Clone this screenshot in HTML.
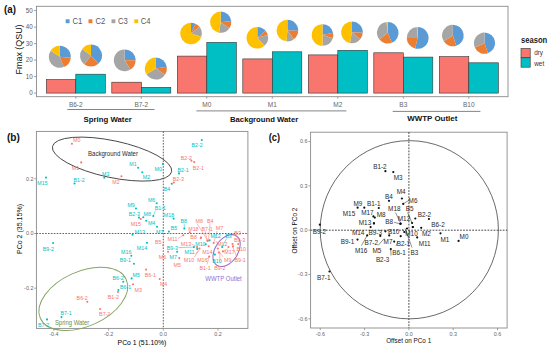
<!DOCTYPE html>
<html><head><meta charset="utf-8"><style>
html,body{margin:0;padding:0;background:#fff;}
svg{display:block;font-family:"Liberation Sans", sans-serif;}
</style></head><body>
<svg width="550" height="351" viewBox="0 0 550 351">
<rect width="550" height="351" fill="#fff"/>
<rect x="36.5" y="6.3" width="471.5" height="90.4" fill="#fff" stroke="#8a8a8a" stroke-width="0.9"/>
<line x1="33.9" y1="93.10" x2="36.5" y2="93.10" stroke="#8a8a8a" stroke-width="0.8"/>
<text transform="translate(32.60,95.44) scale(0.92,1)" font-size="6.8" fill="#5a5a5a" text-anchor="end" font-weight="normal" >0</text>
<line x1="33.9" y1="76.60" x2="36.5" y2="76.60" stroke="#8a8a8a" stroke-width="0.8"/>
<text transform="translate(32.60,78.94) scale(0.92,1)" font-size="6.8" fill="#5a5a5a" text-anchor="end" font-weight="normal" >10</text>
<line x1="33.9" y1="60.10" x2="36.5" y2="60.10" stroke="#8a8a8a" stroke-width="0.8"/>
<text transform="translate(32.60,62.44) scale(0.92,1)" font-size="6.8" fill="#5a5a5a" text-anchor="end" font-weight="normal" >20</text>
<line x1="33.9" y1="43.60" x2="36.5" y2="43.60" stroke="#8a8a8a" stroke-width="0.8"/>
<text transform="translate(32.60,45.94) scale(0.92,1)" font-size="6.8" fill="#5a5a5a" text-anchor="end" font-weight="normal" >30</text>
<line x1="33.9" y1="27.10" x2="36.5" y2="27.10" stroke="#8a8a8a" stroke-width="0.8"/>
<text transform="translate(32.60,29.44) scale(0.92,1)" font-size="6.8" fill="#5a5a5a" text-anchor="end" font-weight="normal" >40</text>
<line x1="33.9" y1="10.60" x2="36.5" y2="10.60" stroke="#8a8a8a" stroke-width="0.8"/>
<text transform="translate(32.60,12.94) scale(0.92,1)" font-size="6.8" fill="#5a5a5a" text-anchor="end" font-weight="normal" >50</text>
<rect x="46.30" y="79.6" width="29.5" height="13.50" fill="#F8766D" stroke="#333" stroke-width="0.6"/>
<rect x="75.80" y="74.2" width="29.5" height="18.90" fill="#00BFC4" stroke="#333" stroke-width="0.6"/>
<line x1="75.80" y1="96.7" x2="75.80" y2="98.7" stroke="#8a8a8a" stroke-width="0.8"/>
<text x="75.80" y="106.94" font-size="6.5" fill="#666" text-anchor="middle" font-weight="normal" >B6-2</text>
<rect x="111.80" y="82.2" width="29.5" height="10.90" fill="#F8766D" stroke="#333" stroke-width="0.6"/>
<rect x="141.30" y="87.3" width="29.5" height="5.80" fill="#00BFC4" stroke="#333" stroke-width="0.6"/>
<line x1="141.30" y1="96.7" x2="141.30" y2="98.7" stroke="#8a8a8a" stroke-width="0.8"/>
<text x="141.30" y="106.94" font-size="6.5" fill="#666" text-anchor="middle" font-weight="normal" >B7-2</text>
<rect x="177.30" y="56.1" width="29.5" height="37.00" fill="#F8766D" stroke="#333" stroke-width="0.6"/>
<rect x="206.80" y="42.4" width="29.5" height="50.70" fill="#00BFC4" stroke="#333" stroke-width="0.6"/>
<line x1="206.80" y1="96.7" x2="206.80" y2="98.7" stroke="#8a8a8a" stroke-width="0.8"/>
<text x="206.80" y="106.94" font-size="6.5" fill="#666" text-anchor="middle" font-weight="normal" >M0</text>
<rect x="242.80" y="58.9" width="29.5" height="34.20" fill="#F8766D" stroke="#333" stroke-width="0.6"/>
<rect x="272.30" y="51.8" width="29.5" height="41.30" fill="#00BFC4" stroke="#333" stroke-width="0.6"/>
<line x1="272.30" y1="96.7" x2="272.30" y2="98.7" stroke="#8a8a8a" stroke-width="0.8"/>
<text x="272.30" y="106.94" font-size="6.5" fill="#666" text-anchor="middle" font-weight="normal" >M1</text>
<rect x="308.30" y="54.9" width="29.5" height="38.20" fill="#F8766D" stroke="#333" stroke-width="0.6"/>
<rect x="337.80" y="50.3" width="29.5" height="42.80" fill="#00BFC4" stroke="#333" stroke-width="0.6"/>
<line x1="337.80" y1="96.7" x2="337.80" y2="98.7" stroke="#8a8a8a" stroke-width="0.8"/>
<text x="337.80" y="106.94" font-size="6.5" fill="#666" text-anchor="middle" font-weight="normal" >M2</text>
<rect x="373.80" y="52.8" width="29.5" height="40.30" fill="#F8766D" stroke="#333" stroke-width="0.6"/>
<rect x="403.30" y="57.1" width="29.5" height="36.00" fill="#00BFC4" stroke="#333" stroke-width="0.6"/>
<line x1="403.30" y1="96.7" x2="403.30" y2="98.7" stroke="#8a8a8a" stroke-width="0.8"/>
<text x="403.30" y="106.94" font-size="6.5" fill="#666" text-anchor="middle" font-weight="normal" >B3</text>
<rect x="439.30" y="56.6" width="29.5" height="36.50" fill="#F8766D" stroke="#333" stroke-width="0.6"/>
<rect x="468.80" y="62.8" width="29.5" height="30.30" fill="#00BFC4" stroke="#333" stroke-width="0.6"/>
<line x1="468.80" y1="96.7" x2="468.80" y2="98.7" stroke="#8a8a8a" stroke-width="0.8"/>
<text x="468.80" y="106.94" font-size="6.5" fill="#666" text-anchor="middle" font-weight="normal" >B10</text>
<path d="M59.80,56.80 L59.80,45.80 A11,11 0 0 1 70.76,57.76 Z" fill="#5B9BD5"/>
<path d="M59.80,56.80 L70.76,57.76 A11,11 0 0 1 63.74,67.07 Z" fill="#ED7D31"/>
<path d="M59.80,56.80 L63.74,67.07 A11,11 0 0 1 50.68,50.65 Z" fill="#A5A5A5"/>
<path d="M59.80,56.80 L50.68,50.65 A11,11 0 0 1 59.80,45.80 Z" fill="#FFC000"/>
<path d="M91.00,55.50 L91.00,44.50 A11,11 0 0 1 98.36,63.67 Z" fill="#5B9BD5"/>
<path d="M91.00,55.50 L98.36,63.67 A11,11 0 0 1 84.23,64.17 Z" fill="#ED7D31"/>
<path d="M91.00,55.50 L84.23,64.17 A11,11 0 0 1 82.22,48.88 Z" fill="#A5A5A5"/>
<path d="M91.00,55.50 L82.22,48.88 A11,11 0 0 1 91.00,44.50 Z" fill="#FFC000"/>
<path d="M124.70,60.30 L124.70,49.40 A10.9,10.9 0 0 1 135.60,60.30 Z" fill="#5B9BD5"/>
<path d="M124.70,60.30 L135.60,60.30 A10.9,10.9 0 0 1 130.48,69.54 Z" fill="#ED7D31"/>
<path d="M124.70,60.30 L130.48,69.54 A10.9,10.9 0 1 1 124.70,49.40 Z" fill="#A5A5A5"/>
<path d="M155.90,68.60 L155.90,57.60 A11,11 0 0 1 166.75,66.78 Z" fill="#5B9BD5"/>
<path d="M155.90,68.60 L166.75,66.78 A11,11 0 0 1 165.02,74.75 Z" fill="#ED7D31"/>
<path d="M155.90,68.60 L165.02,74.75 A11,11 0 0 1 146.47,74.27 Z" fill="#A5A5A5"/>
<path d="M155.90,68.60 L146.47,74.27 A11,11 0 0 1 155.90,57.60 Z" fill="#FFC000"/>
<path d="M191.00,33.50 L191.00,22.70 A10.8,10.8 0 0 1 195.39,23.63 Z" fill="#5B9BD5"/>
<path d="M191.00,33.50 L195.39,23.63 A10.8,10.8 0 0 1 199.51,26.85 Z" fill="#ED7D31"/>
<path d="M191.00,33.50 L199.51,26.85 A10.8,10.8 0 0 1 201.33,36.66 Z" fill="#A5A5A5"/>
<path d="M191.00,33.50 L201.33,36.66 A10.8,10.8 0 1 1 191.00,22.70 Z" fill="#FFC000"/>
<path d="M220.70,22.20 L220.70,11.60 A10.6,10.6 0 0 1 231.22,20.91 Z" fill="#5B9BD5"/>
<path d="M220.70,22.20 L231.22,20.91 A10.6,10.6 0 0 1 229.38,28.28 Z" fill="#ED7D31"/>
<path d="M220.70,22.20 L229.38,28.28 A10.6,10.6 0 0 1 219.04,32.67 Z" fill="#A5A5A5"/>
<path d="M220.70,22.20 L219.04,32.67 A10.6,10.6 0 0 1 220.70,11.60 Z" fill="#FFC000"/>
<path d="M257.30,37.80 L257.30,27.00 A10.8,10.8 0 0 1 265.57,30.86 Z" fill="#5B9BD5"/>
<path d="M257.30,37.80 L265.57,30.86 A10.8,10.8 0 0 1 267.73,35.00 Z" fill="#ED7D31"/>
<path d="M257.30,37.80 L267.73,35.00 A10.8,10.8 0 0 1 264.53,45.83 Z" fill="#A5A5A5"/>
<path d="M257.30,37.80 L264.53,45.83 A10.8,10.8 0 1 1 257.30,27.00 Z" fill="#FFC000"/>
<path d="M287.40,30.60 L287.40,19.80 A10.8,10.8 0 0 1 298.20,30.79 Z" fill="#5B9BD5"/>
<path d="M287.40,30.60 L298.20,30.79 A10.8,10.8 0 0 1 293.90,39.23 Z" fill="#ED7D31"/>
<path d="M287.40,30.60 L293.90,39.23 A10.8,10.8 0 0 1 286.46,41.36 Z" fill="#A5A5A5"/>
<path d="M287.40,30.60 L286.46,41.36 A10.8,10.8 0 0 1 287.40,19.80 Z" fill="#FFC000"/>
<path d="M322.50,35.00 L322.50,24.20 A10.8,10.8 0 0 1 333.06,32.75 Z" fill="#5B9BD5"/>
<path d="M322.50,35.00 L333.06,32.75 A10.8,10.8 0 0 1 332.77,38.34 Z" fill="#ED7D31"/>
<path d="M322.50,35.00 L332.77,38.34 A10.8,10.8 0 0 1 322.50,45.80 Z" fill="#A5A5A5"/>
<path d="M322.50,35.00 L322.50,45.80 A10.8,10.8 0 0 1 322.50,24.20 Z" fill="#FFC000"/>
<path d="M351.90,32.30 L351.90,21.45 A10.85,10.85 0 0 1 362.74,32.87 Z" fill="#5B9BD5"/>
<path d="M351.90,32.30 L362.74,32.87 A10.85,10.85 0 0 1 360.21,39.27 Z" fill="#ED7D31"/>
<path d="M351.90,32.30 L360.21,39.27 A10.85,10.85 0 0 1 350.02,42.99 Z" fill="#A5A5A5"/>
<path d="M351.90,32.30 L350.02,42.99 A10.85,10.85 0 0 1 351.90,21.45 Z" fill="#FFC000"/>
<path d="M387.80,32.80 L387.80,22.00 A10.8,10.8 0 0 1 391.85,42.81 Z" fill="#5B9BD5"/>
<path d="M387.80,32.80 L391.85,42.81 A10.8,10.8 0 0 1 379.41,39.60 Z" fill="#ED7D31"/>
<path d="M387.80,32.80 L379.41,39.60 A10.8,10.8 0 0 1 386.48,22.08 Z" fill="#A5A5A5"/>
<path d="M387.80,32.80 L386.48,22.08 A10.8,10.8 0 0 1 387.80,22.00 Z" fill="#FFC000"/>
<path d="M417.70,37.90 L417.70,27.00 A10.9,10.9 0 1 1 415.06,48.48 Z" fill="#5B9BD5"/>
<path d="M417.70,37.90 L415.06,48.48 A10.9,10.9 0 0 1 406.80,37.90 Z" fill="#ED7D31"/>
<path d="M417.70,37.90 L406.80,37.90 A10.9,10.9 0 0 1 416.75,27.04 Z" fill="#A5A5A5"/>
<path d="M417.70,37.90 L416.75,27.04 A10.9,10.9 0 0 1 417.70,27.00 Z" fill="#FFC000"/>
<path d="M452.90,35.50 L452.90,24.70 A10.8,10.8 0 0 1 456.24,45.77 Z" fill="#5B9BD5"/>
<path d="M452.90,35.50 L456.24,45.77 A10.8,10.8 0 0 1 443.74,41.22 Z" fill="#ED7D31"/>
<path d="M452.90,35.50 L443.74,41.22 A10.8,10.8 0 0 1 452.90,24.70 Z" fill="#A5A5A5"/>
<path d="M484.50,43.20 L484.50,32.60 A10.6,10.6 0 0 1 487.95,53.22 Z" fill="#5B9BD5"/>
<path d="M484.50,43.20 L487.95,53.22 A10.6,10.6 0 0 1 474.82,47.51 Z" fill="#ED7D31"/>
<path d="M484.50,43.20 L474.82,47.51 A10.6,10.6 0 0 1 484.50,32.60 Z" fill="#A5A5A5"/>
<rect x="65.7" y="19.3" width="3.9" height="3.9" fill="#5B9BD5"/>
<text x="72.40" y="24.29" font-size="8.4" fill="#595959" text-anchor="start" font-weight="normal" textLength="9.8" lengthAdjust="spacingAndGlyphs">C1</text>
<rect x="88.5" y="19.3" width="3.9" height="3.9" fill="#ED7D31"/>
<text x="95.40" y="24.29" font-size="8.4" fill="#595959" text-anchor="start" font-weight="normal" textLength="9.8" lengthAdjust="spacingAndGlyphs">C2</text>
<rect x="111.5" y="19.3" width="3.9" height="3.9" fill="#A5A5A5"/>
<text x="117.90" y="24.29" font-size="8.4" fill="#595959" text-anchor="start" font-weight="normal" textLength="9.8" lengthAdjust="spacingAndGlyphs">C3</text>
<rect x="134.3" y="19.3" width="3.9" height="3.9" fill="#FFC000"/>
<text x="140.80" y="24.29" font-size="8.4" fill="#595959" text-anchor="start" font-weight="normal" textLength="9.8" lengthAdjust="spacingAndGlyphs">C4</text>
<text x="0" y="0" font-size="8.4" fill="#111" text-anchor="middle" transform="translate(21.9,49.4) rotate(-90)" textLength="50" lengthAdjust="spacingAndGlyphs">Fmax (QSU)</text>
<text x="4.00" y="12.90" font-size="10" fill="#111" text-anchor="start" font-weight="bold" textLength="11.9" lengthAdjust="spacingAndGlyphs">(a)</text>
<line x1="67.3" y1="109.5" x2="154.5" y2="109.5" stroke="#777" stroke-width="0.9"/>
<line x1="196.4" y1="110.9" x2="346.4" y2="110.9" stroke="#777" stroke-width="0.9"/>
<line x1="392.7" y1="111.4" x2="480.4" y2="111.4" stroke="#777" stroke-width="0.9"/>
<text x="83.60" y="121.60" font-size="7.6" fill="#111" text-anchor="start" font-weight="bold" textLength="48.2" lengthAdjust="spacingAndGlyphs">Spring Water</text>
<text x="230.00" y="121.70" font-size="7.6" fill="#111" text-anchor="start" font-weight="bold" textLength="68.2" lengthAdjust="spacingAndGlyphs">Background Water</text>
<text x="407.30" y="121.40" font-size="7.6" fill="#111" text-anchor="start" font-weight="bold" textLength="50" lengthAdjust="spacingAndGlyphs">WWTP Outlet</text>
<text x="521.00" y="43.40" font-size="8.6" fill="#222" text-anchor="start" font-weight="bold" textLength="26.2" lengthAdjust="spacingAndGlyphs">season</text>
<rect x="521" y="48.4" width="9.2" height="9.4" fill="#F8766D" stroke="#333" stroke-width="0.6"/>
<rect x="521" y="57.8" width="9.2" height="9.4" fill="#00BFC4" stroke="#333" stroke-width="0.6"/>
<text x="534.20" y="55.30" font-size="7" fill="#333" text-anchor="start" font-weight="normal" textLength="8.8" lengthAdjust="spacingAndGlyphs">dry</text>
<text x="534.20" y="65.80" font-size="7" fill="#333" text-anchor="start" font-weight="normal" textLength="10" lengthAdjust="spacingAndGlyphs">wet</text>
<rect x="36.4" y="131.4" width="211.5" height="196.99999999999997" fill="#fff" stroke="#8a8a8a" stroke-width="0.9"/>
<line x1="36.4" y1="233.5" x2="247.9" y2="233.5" stroke="#444" stroke-width="0.85" stroke-dasharray="1.6,1.3"/>
<line x1="163.3" y1="131.4" x2="163.3" y2="328.4" stroke="#444" stroke-width="0.85" stroke-dasharray="1.6,1.3"/>
<line x1="34.199999999999996" y1="178.80" x2="36.4" y2="178.80" stroke="#8a8a8a" stroke-width="0.8"/>
<text x="33.40" y="180.66" font-size="5.4" fill="#666" text-anchor="end" font-weight="normal" >0.2</text>
<line x1="34.199999999999996" y1="233.50" x2="36.4" y2="233.50" stroke="#8a8a8a" stroke-width="0.8"/>
<text x="33.40" y="235.36" font-size="5.4" fill="#666" text-anchor="end" font-weight="normal" >0.0</text>
<line x1="34.199999999999996" y1="288.20" x2="36.4" y2="288.20" stroke="#8a8a8a" stroke-width="0.8"/>
<text x="33.40" y="290.06" font-size="5.4" fill="#666" text-anchor="end" font-weight="normal" >-0.2</text>
<line x1="53.90" y1="328.4" x2="53.90" y2="330.59999999999997" stroke="#8a8a8a" stroke-width="0.8"/>
<text x="53.90" y="336.46" font-size="5.4" fill="#666" text-anchor="middle" font-weight="normal" >-0.4</text>
<line x1="108.60" y1="328.4" x2="108.60" y2="330.59999999999997" stroke="#8a8a8a" stroke-width="0.8"/>
<text x="108.60" y="336.46" font-size="5.4" fill="#666" text-anchor="middle" font-weight="normal" >-0.2</text>
<line x1="163.30" y1="328.4" x2="163.30" y2="330.59999999999997" stroke="#8a8a8a" stroke-width="0.8"/>
<text x="163.30" y="336.46" font-size="5.4" fill="#666" text-anchor="middle" font-weight="normal" >0.0</text>
<line x1="218.00" y1="328.4" x2="218.00" y2="330.59999999999997" stroke="#8a8a8a" stroke-width="0.8"/>
<text x="218.00" y="336.46" font-size="5.4" fill="#666" text-anchor="middle" font-weight="normal" >0.2</text>
<text x="142.00" y="345.00" font-size="7.2" fill="#000" text-anchor="middle" font-weight="normal" textLength="48.8" lengthAdjust="spacingAndGlyphs">PCo 1 (51.10%)</text>
<text x="0" y="0" font-size="6.9" fill="#111" text-anchor="middle" transform="translate(22.2,229.0) rotate(-90)" textLength="50" lengthAdjust="spacingAndGlyphs">PCo 2 (35.15%)</text>
<text x="6.90" y="141.40" font-size="10.2" fill="#111" text-anchor="start" font-weight="bold" textLength="12.9" lengthAdjust="spacingAndGlyphs">(b)</text>
<ellipse cx="112.05" cy="159.1" rx="60.9" ry="18.4" transform="rotate(12.0 112.05 159.1)" fill="none" stroke="#444" stroke-width="0.9"/>
<ellipse cx="83.3" cy="298.9" rx="47.1" ry="27.4" transform="rotate(-24.2 83.3 298.9)" fill="none" stroke="#86A466" stroke-width="0.95"/>
<ellipse cx="226.6" cy="250.6" rx="17.6" ry="11.4" transform="rotate(-56 226.6 250.6)" fill="none" stroke="#9575D5" stroke-width="1.05"/>
<text x="113.00" y="155.87" font-size="6.6" fill="#2a2a2a" text-anchor="middle" font-weight="normal" textLength="50" lengthAdjust="spacingAndGlyphs">Background Water</text>
<text x="72.10" y="324.67" font-size="6.6" fill="#6E8E4E" text-anchor="middle" font-weight="normal" textLength="34.4" lengthAdjust="spacingAndGlyphs">Spring Water</text>
<text x="223.50" y="280.77" font-size="6.6" fill="#8E6FD0" text-anchor="middle" font-weight="normal" textLength="36.4" lengthAdjust="spacingAndGlyphs">WWTP Outlet</text>
<line x1="155.4" y1="210.6" x2="153.3" y2="216" stroke="#00BFC4" stroke-width="0.5"/>
<line x1="184.2" y1="223.6" x2="184.3" y2="228.5" stroke="#00BFC4" stroke-width="0.5"/>
<line x1="178.5" y1="247.6" x2="193.9" y2="247.1" stroke="#00BFC4" stroke-width="0.5"/>
<line x1="226.5" y1="238.5" x2="222.2" y2="247" stroke="#00BFC4" stroke-width="0.5"/>
<line x1="197" y1="223.5" x2="207.8" y2="240.8" stroke="#F8766D" stroke-width="0.5"/>
<line x1="210" y1="223.5" x2="208.5" y2="240" stroke="#F8766D" stroke-width="0.5"/>
<line x1="205" y1="231" x2="207.4" y2="240.8" stroke="#F8766D" stroke-width="0.5"/>
<line x1="217" y1="231" x2="213.7" y2="243" stroke="#F8766D" stroke-width="0.5"/>
<line x1="177.8" y1="238.6" x2="183.3" y2="235.3" stroke="#F8766D" stroke-width="0.5"/>
<line x1="191.5" y1="244" x2="195.5" y2="246" stroke="#F8766D" stroke-width="0.5"/>
<line x1="194.4" y1="257" x2="199.5" y2="249.5" stroke="#F8766D" stroke-width="0.5"/>
<line x1="206.7" y1="259.3" x2="209.4" y2="256.6" stroke="#F8766D" stroke-width="0.5"/>
<line x1="195.5" y1="254.4" x2="197.9" y2="250.6" stroke="#F8766D" stroke-width="0.5"/>
<line x1="223.2" y1="256.9" x2="218.3" y2="250.6" stroke="#F8766D" stroke-width="0.5"/>
<line x1="219.8" y1="253" x2="219.8" y2="262.5" stroke="#F8766D" stroke-width="0.5"/>
<line x1="236.5" y1="256.5" x2="232.8" y2="246.8" stroke="#F8766D" stroke-width="0.5"/>
<line x1="215.9" y1="240.9" x2="218.3" y2="244.7" stroke="#F8766D" stroke-width="0.5"/>
<line x1="227.5" y1="249" x2="222.9" y2="251.4" stroke="#F8766D" stroke-width="0.5"/>
<line x1="207" y1="264.5" x2="209.2" y2="257" stroke="#F8766D" stroke-width="0.5"/>
<circle cx="71.9" cy="143.8" r="1.05" fill="#F8766D"/>
<circle cx="81.2" cy="162.4" r="1.05" fill="#F8766D"/>
<circle cx="121.4" cy="176.2" r="1.05" fill="#F8766D"/>
<circle cx="191.4" cy="160.7" r="1.05" fill="#F8766D"/>
<circle cx="194.2" cy="162.1" r="1.05" fill="#F8766D"/>
<circle cx="173.8" cy="182.5" r="1.05" fill="#F8766D"/>
<circle cx="140.8" cy="219" r="1.05" fill="#F8766D"/>
<circle cx="189.8" cy="232.2" r="1.05" fill="#F8766D"/>
<circle cx="207.8" cy="240.8" r="1.05" fill="#F8766D"/>
<circle cx="183.3" cy="235.3" r="1.05" fill="#F8766D"/>
<circle cx="200.8" cy="237.9" r="1.05" fill="#F8766D"/>
<circle cx="197" cy="247" r="1.05" fill="#F8766D"/>
<circle cx="163.2" cy="245.3" r="1.05" fill="#F8766D"/>
<circle cx="168.1" cy="251.8" r="1.05" fill="#F8766D"/>
<circle cx="179.3" cy="258.1" r="1.05" fill="#F8766D"/>
<circle cx="199.5" cy="248.5" r="1.05" fill="#F8766D"/>
<circle cx="208.7" cy="246.3" r="1.05" fill="#F8766D"/>
<circle cx="209.2" cy="256.5" r="1.05" fill="#F8766D"/>
<circle cx="87.3" cy="301.7" r="1.05" fill="#F8766D"/>
<circle cx="118" cy="292" r="1.05" fill="#F8766D"/>
<circle cx="100.1" cy="309" r="1.05" fill="#F8766D"/>
<circle cx="146.1" cy="269.6" r="1.05" fill="#F8766D"/>
<circle cx="159.7" cy="279" r="1.05" fill="#F8766D"/>
<circle cx="133" cy="284.2" r="1.05" fill="#F8766D"/>
<circle cx="207.4" cy="240.8" r="1.05" fill="#F8766D"/>
<circle cx="213.7" cy="243" r="1.05" fill="#F8766D"/>
<circle cx="232.5" cy="244" r="1.05" fill="#F8766D"/>
<circle cx="238.2" cy="244" r="1.05" fill="#F8766D"/>
<circle cx="228.5" cy="247" r="1.05" fill="#F8766D"/>
<circle cx="233" cy="246.4" r="1.05" fill="#F8766D"/>
<circle cx="217.8" cy="248.5" r="1.05" fill="#F8766D"/>
<circle cx="218.9" cy="252.5" r="1.05" fill="#F8766D"/>
<circle cx="222.9" cy="251.4" r="1.05" fill="#F8766D"/>
<circle cx="201" cy="237.6" r="1.05" fill="#F8766D"/>
<circle cx="201.8" cy="140" r="1.05" fill="#00BFC4"/>
<circle cx="46" cy="177.6" r="1.05" fill="#00BFC4"/>
<circle cx="74.5" cy="183.5" r="1.05" fill="#00BFC4"/>
<circle cx="104.3" cy="177.8" r="1.05" fill="#00BFC4"/>
<circle cx="138.1" cy="167.8" r="1.05" fill="#00BFC4"/>
<circle cx="142.3" cy="172.3" r="1.05" fill="#00BFC4"/>
<circle cx="163" cy="163.9" r="1.05" fill="#00BFC4"/>
<circle cx="179" cy="173.4" r="1.05" fill="#00BFC4"/>
<circle cx="171.8" cy="183.8" r="1.05" fill="#00BFC4"/>
<circle cx="156.7" cy="203.2" r="1.05" fill="#00BFC4"/>
<circle cx="136" cy="208.5" r="1.05" fill="#00BFC4"/>
<circle cx="139" cy="217.6" r="1.05" fill="#00BFC4"/>
<circle cx="143.3" cy="217.3" r="1.05" fill="#00BFC4"/>
<circle cx="146.2" cy="220.8" r="1.05" fill="#00BFC4"/>
<circle cx="153.3" cy="216" r="1.05" fill="#00BFC4"/>
<circle cx="173.6" cy="218.6" r="1.05" fill="#00BFC4"/>
<circle cx="132.5" cy="234.7" r="1.05" fill="#00BFC4"/>
<circle cx="157" cy="226.7" r="1.05" fill="#00BFC4"/>
<circle cx="184.3" cy="228.5" r="1.05" fill="#00BFC4"/>
<circle cx="168.9" cy="231.6" r="1.05" fill="#00BFC4"/>
<circle cx="147" cy="242.8" r="1.05" fill="#00BFC4"/>
<circle cx="131.3" cy="255.7" r="1.05" fill="#00BFC4"/>
<circle cx="133.9" cy="263.8" r="1.05" fill="#00BFC4"/>
<circle cx="53.1" cy="243" r="1.05" fill="#00BFC4"/>
<circle cx="131.6" cy="278.4" r="1.05" fill="#00BFC4"/>
<circle cx="123.3" cy="281.7" r="1.05" fill="#00BFC4"/>
<circle cx="118.4" cy="290" r="1.05" fill="#00BFC4"/>
<circle cx="61.5" cy="317.1" r="1.05" fill="#00BFC4"/>
<circle cx="47" cy="319.4" r="1.05" fill="#00BFC4"/>
<circle cx="193.9" cy="247.1" r="1.05" fill="#00BFC4"/>
<circle cx="197.3" cy="248.9" r="1.05" fill="#00BFC4"/>
<circle cx="205.7" cy="244.2" r="1.05" fill="#00BFC4"/>
<circle cx="209.6" cy="240.2" r="1.05" fill="#00BFC4"/>
<circle cx="222.2" cy="247" r="1.05" fill="#00BFC4"/>
<circle cx="214.9" cy="254.6" r="1.05" fill="#00BFC4"/>
<circle cx="177.1" cy="251.8" r="1.05" fill="#00BFC4"/>
<text transform="translate(76.80,142.13) scale(0.9,1)" font-size="5.9" fill="#F8766D" text-anchor="middle" font-weight="normal" >M0</text>
<text transform="translate(75.40,169.93) scale(0.9,1)" font-size="5.9" fill="#F8766D" text-anchor="middle" font-weight="normal" >M1</text>
<text transform="translate(116.00,184.23) scale(0.9,1)" font-size="5.9" fill="#F8766D" text-anchor="middle" font-weight="normal" >M2</text>
<text transform="translate(186.40,159.53) scale(0.9,1)" font-size="5.9" fill="#F8766D" text-anchor="middle" font-weight="normal" >B2-2</text>
<text transform="translate(198.30,169.53) scale(0.9,1)" font-size="5.9" fill="#F8766D" text-anchor="middle" font-weight="normal" >B2-1</text>
<text transform="translate(178.30,180.63) scale(0.9,1)" font-size="5.9" fill="#F8766D" text-anchor="middle" font-weight="normal" >B2-3</text>
<text transform="translate(135.80,226.03) scale(0.9,1)" font-size="5.9" fill="#F8766D" text-anchor="middle" font-weight="normal" >M15</text>
<text transform="translate(193.40,230.63) scale(0.9,1)" font-size="5.9" fill="#F8766D" text-anchor="middle" font-weight="normal" >M18</text>
<text transform="translate(199.30,223.23) scale(0.9,1)" font-size="5.9" fill="#F8766D" text-anchor="middle" font-weight="normal" >M8</text>
<text transform="translate(210.20,223.23) scale(0.9,1)" font-size="5.9" fill="#F8766D" text-anchor="middle" font-weight="normal" >B4</text>
<text transform="translate(207.00,230.63) scale(0.9,1)" font-size="5.9" fill="#F8766D" text-anchor="middle" font-weight="normal" >B7-1</text>
<text transform="translate(219.40,230.43) scale(0.9,1)" font-size="5.9" fill="#F8766D" text-anchor="middle" font-weight="normal" >M7</text>
<text transform="translate(172.50,241.43) scale(0.9,1)" font-size="5.9" fill="#F8766D" text-anchor="middle" font-weight="normal" >M11</text>
<text transform="translate(193.60,238.63) scale(0.9,1)" font-size="5.9" fill="#F8766D" text-anchor="middle" font-weight="normal" >B8</text>
<text transform="translate(186.00,246.03) scale(0.9,1)" font-size="5.9" fill="#F8766D" text-anchor="middle" font-weight="normal" >M13</text>
<text transform="translate(158.20,243.83) scale(0.9,1)" font-size="5.9" fill="#F8766D" text-anchor="middle" font-weight="normal" >B5</text>
<text transform="translate(162.50,258.83) scale(0.9,1)" font-size="5.9" fill="#F8766D" text-anchor="middle" font-weight="normal" >M6</text>
<text transform="translate(177.20,266.73) scale(0.9,1)" font-size="5.9" fill="#F8766D" text-anchor="middle" font-weight="normal" >M5</text>
<text transform="translate(189.00,262.03) scale(0.9,1)" font-size="5.9" fill="#F8766D" text-anchor="middle" font-weight="normal" >M10</text>
<text transform="translate(207.30,253.63) scale(0.9,1)" font-size="5.9" fill="#F8766D" text-anchor="middle" font-weight="normal" >M14</text>
<text transform="translate(202.30,262.03) scale(0.9,1)" font-size="5.9" fill="#F8766D" text-anchor="middle" font-weight="normal" >M16</text>
<text transform="translate(205.00,269.73) scale(0.9,1)" font-size="5.9" fill="#F8766D" text-anchor="middle" font-weight="normal" >B1-1</text>
<text transform="translate(219.80,269.73) scale(0.9,1)" font-size="5.9" fill="#F8766D" text-anchor="middle" font-weight="normal" >B9-2</text>
<text transform="translate(227.80,262.03) scale(0.9,1)" font-size="5.9" fill="#F8766D" text-anchor="middle" font-weight="normal" >M9</text>
<text transform="translate(240.00,262.03) scale(0.9,1)" font-size="5.9" fill="#F8766D" text-anchor="middle" font-weight="normal" >B9-1</text>
<text transform="translate(229.50,253.83) scale(0.9,1)" font-size="5.9" fill="#F8766D" text-anchor="middle" font-weight="normal" >M17</text>
<text transform="translate(241.20,250.93) scale(0.9,1)" font-size="5.9" fill="#F8766D" text-anchor="middle" font-weight="normal" >B10</text>
<text transform="translate(222.30,245.83) scale(0.9,1)" font-size="5.9" fill="#F8766D" text-anchor="middle" font-weight="normal" >M12</text>
<text transform="translate(237.60,234.63) scale(0.9,1)" font-size="5.9" fill="#F8766D" text-anchor="middle" font-weight="normal" >B3</text>
<text transform="translate(239.60,242.23) scale(0.9,1)" font-size="5.9" fill="#F8766D" text-anchor="middle" font-weight="normal" >B9-3</text>
<text transform="translate(82.20,300.23) scale(0.9,1)" font-size="5.9" fill="#F8766D" text-anchor="middle" font-weight="normal" >B6-2</text>
<text transform="translate(113.40,299.23) scale(0.9,1)" font-size="5.9" fill="#F8766D" text-anchor="middle" font-weight="normal" >B1-2</text>
<text transform="translate(104.70,316.23) scale(0.9,1)" font-size="5.9" fill="#F8766D" text-anchor="middle" font-weight="normal" >B7-2</text>
<text transform="translate(150.40,277.13) scale(0.9,1)" font-size="5.9" fill="#F8766D" text-anchor="middle" font-weight="normal" >B6-1</text>
<text transform="translate(163.60,286.43) scale(0.9,1)" font-size="5.9" fill="#F8766D" text-anchor="middle" font-weight="normal" >M4</text>
<text transform="translate(138.20,291.53) scale(0.9,1)" font-size="5.9" fill="#F8766D" text-anchor="middle" font-weight="normal" >M3</text>
<text transform="translate(197.10,147.13) scale(0.9,1)" font-size="5.9" fill="#00BFC4" text-anchor="middle" font-weight="normal" >B2-2</text>
<text transform="translate(42.50,184.93) scale(0.9,1)" font-size="5.9" fill="#00BFC4" text-anchor="middle" font-weight="normal" >M15</text>
<text transform="translate(79.00,182.13) scale(0.9,1)" font-size="5.9" fill="#00BFC4" text-anchor="middle" font-weight="normal" >B1-2</text>
<text transform="translate(105.80,176.03) scale(0.9,1)" font-size="5.9" fill="#00BFC4" text-anchor="middle" font-weight="normal" >M3</text>
<text transform="translate(133.00,165.93) scale(0.9,1)" font-size="5.9" fill="#00BFC4" text-anchor="middle" font-weight="normal" >M1</text>
<text transform="translate(146.50,179.23) scale(0.9,1)" font-size="5.9" fill="#00BFC4" text-anchor="middle" font-weight="normal" >M2</text>
<text transform="translate(158.20,170.93) scale(0.9,1)" font-size="5.9" fill="#00BFC4" text-anchor="middle" font-weight="normal" >M0</text>
<text transform="translate(183.10,172.13) scale(0.9,1)" font-size="5.9" fill="#00BFC4" text-anchor="middle" font-weight="normal" >B2-1</text>
<text transform="translate(167.00,190.73) scale(0.9,1)" font-size="5.9" fill="#00BFC4" text-anchor="middle" font-weight="normal" >B4</text>
<text transform="translate(151.60,201.53) scale(0.9,1)" font-size="5.9" fill="#00BFC4" text-anchor="middle" font-weight="normal" >M6</text>
<text transform="translate(131.10,207.03) scale(0.9,1)" font-size="5.9" fill="#00BFC4" text-anchor="middle" font-weight="normal" >M9</text>
<text transform="translate(134.30,216.13) scale(0.9,1)" font-size="5.9" fill="#00BFC4" text-anchor="middle" font-weight="normal" >B2-3</text>
<text transform="translate(147.20,216.13) scale(0.9,1)" font-size="5.9" fill="#00BFC4" text-anchor="middle" font-weight="normal" >M8</text>
<text transform="translate(151.60,224.93) scale(0.9,1)" font-size="5.9" fill="#00BFC4" text-anchor="middle" font-weight="normal" >M4</text>
<text transform="translate(160.40,209.93) scale(0.9,1)" font-size="5.9" fill="#00BFC4" text-anchor="middle" font-weight="normal" >B1-1</text>
<text transform="translate(169.00,217.33) scale(0.9,1)" font-size="5.9" fill="#00BFC4" text-anchor="middle" font-weight="normal" >M18</text>
<text transform="translate(139.90,233.83) scale(0.9,1)" font-size="5.9" fill="#00BFC4" text-anchor="middle" font-weight="normal" >M13</text>
<text transform="translate(159.70,233.83) scale(0.9,1)" font-size="5.9" fill="#00BFC4" text-anchor="middle" font-weight="normal" >M7</text>
<text transform="translate(183.70,223.23) scale(0.9,1)" font-size="5.9" fill="#00BFC4" text-anchor="middle" font-weight="normal" >B8</text>
<text transform="translate(174.00,230.43) scale(0.9,1)" font-size="5.9" fill="#00BFC4" text-anchor="middle" font-weight="normal" >B5</text>
<text transform="translate(142.00,249.93) scale(0.9,1)" font-size="5.9" fill="#00BFC4" text-anchor="middle" font-weight="normal" >M14</text>
<text transform="translate(126.20,253.83) scale(0.9,1)" font-size="5.9" fill="#00BFC4" text-anchor="middle" font-weight="normal" >M16</text>
<text transform="translate(125.30,262.33) scale(0.9,1)" font-size="5.9" fill="#00BFC4" text-anchor="middle" font-weight="normal" >B9-1</text>
<text transform="translate(48.30,250.53) scale(0.9,1)" font-size="5.9" fill="#00BFC4" text-anchor="middle" font-weight="normal" >B9-2</text>
<text transform="translate(136.30,277.03) scale(0.9,1)" font-size="5.9" fill="#00BFC4" text-anchor="middle" font-weight="normal" >M5</text>
<text transform="translate(118.00,279.93) scale(0.9,1)" font-size="5.9" fill="#00BFC4" text-anchor="middle" font-weight="normal" >B6-2</text>
<text transform="translate(125.50,288.63) scale(0.9,1)" font-size="5.9" fill="#00BFC4" text-anchor="middle" font-weight="normal" >B6-1</text>
<text transform="translate(66.00,315.03) scale(0.9,1)" font-size="5.9" fill="#00BFC4" text-anchor="middle" font-weight="normal" >B7-1</text>
<text transform="translate(43.50,326.73) scale(0.9,1)" font-size="5.9" fill="#00BFC4" text-anchor="middle" font-weight="normal" >B7-2</text>
<text transform="translate(172.40,250.03) scale(0.9,1)" font-size="5.9" fill="#00BFC4" text-anchor="middle" font-weight="normal" >B9-3</text>
<text transform="translate(189.50,254.43) scale(0.9,1)" font-size="5.9" fill="#00BFC4" text-anchor="middle" font-weight="normal" >M11</text>
<text transform="translate(200.40,245.83) scale(0.9,1)" font-size="5.9" fill="#00BFC4" text-anchor="middle" font-weight="normal" >M10</text>
<text transform="translate(215.60,238.43) scale(0.9,1)" font-size="5.9" fill="#00BFC4" text-anchor="middle" font-weight="normal" >M12</text>
<text transform="translate(228.50,238.03) scale(0.9,1)" font-size="5.9" fill="#00BFC4" text-anchor="middle" font-weight="normal" >B3</text>
<text transform="translate(217.00,262.73) scale(0.9,1)" font-size="5.9" fill="#00BFC4" text-anchor="middle" font-weight="normal" >B10</text>
<text transform="translate(173.20,258.83) scale(0.9,1)" font-size="5.9" fill="#00BFC4" text-anchor="middle" font-weight="normal" >M7</text>
<rect x="310.6" y="132.2" width="196.5" height="195.8" fill="#fff" stroke="#8a8a8a" stroke-width="0.9"/>
<line x1="310.6" y1="230.2" x2="507.1" y2="230.2" stroke="#222" stroke-width="0.85" stroke-dasharray="1.75,1.3"/>
<line x1="408.9" y1="132.2" x2="408.9" y2="328.0" stroke="#222" stroke-width="0.85" stroke-dasharray="1.75,1.3"/>
<circle cx="409.3" cy="229.75" r="89.1" fill="none" stroke="#444" stroke-width="0.8"/>
<line x1="308.40000000000003" y1="141.58" x2="310.6" y2="141.58" stroke="#8a8a8a" stroke-width="0.8"/>
<text x="307.40" y="143.44" font-size="5.4" fill="#666" text-anchor="end" font-weight="normal" >0.6</text>
<line x1="497.52" y1="328.0" x2="497.52" y2="330.2" stroke="#8a8a8a" stroke-width="0.8"/>
<text x="497.52" y="335.76" font-size="5.4" fill="#666" text-anchor="middle" font-weight="normal" >0.6</text>
<line x1="308.40000000000003" y1="185.89" x2="310.6" y2="185.89" stroke="#8a8a8a" stroke-width="0.8"/>
<text x="307.40" y="187.75" font-size="5.4" fill="#666" text-anchor="end" font-weight="normal" >0.3</text>
<line x1="453.21" y1="328.0" x2="453.21" y2="330.2" stroke="#8a8a8a" stroke-width="0.8"/>
<text x="453.21" y="335.76" font-size="5.4" fill="#666" text-anchor="middle" font-weight="normal" >0.3</text>
<line x1="308.40000000000003" y1="230.20" x2="310.6" y2="230.20" stroke="#8a8a8a" stroke-width="0.8"/>
<text x="307.40" y="232.06" font-size="5.4" fill="#666" text-anchor="end" font-weight="normal" >0.0</text>
<line x1="408.90" y1="328.0" x2="408.90" y2="330.2" stroke="#8a8a8a" stroke-width="0.8"/>
<text x="408.90" y="335.76" font-size="5.4" fill="#666" text-anchor="middle" font-weight="normal" >0.0</text>
<line x1="308.40000000000003" y1="274.51" x2="310.6" y2="274.51" stroke="#8a8a8a" stroke-width="0.8"/>
<text x="307.40" y="276.37" font-size="5.4" fill="#666" text-anchor="end" font-weight="normal" >-0.3</text>
<line x1="364.59" y1="328.0" x2="364.59" y2="330.2" stroke="#8a8a8a" stroke-width="0.8"/>
<text x="364.59" y="335.76" font-size="5.4" fill="#666" text-anchor="middle" font-weight="normal" >-0.3</text>
<line x1="308.40000000000003" y1="318.82" x2="310.6" y2="318.82" stroke="#8a8a8a" stroke-width="0.8"/>
<text x="307.40" y="320.68" font-size="5.4" fill="#666" text-anchor="end" font-weight="normal" >-0.6</text>
<line x1="320.28" y1="328.0" x2="320.28" y2="330.2" stroke="#8a8a8a" stroke-width="0.8"/>
<text x="320.28" y="335.76" font-size="5.4" fill="#666" text-anchor="middle" font-weight="normal" >-0.6</text>
<text x="408.70" y="343.30" font-size="6.3" fill="#111" text-anchor="middle" font-weight="normal" textLength="45" lengthAdjust="spacingAndGlyphs">Offset on PCo 1</text>
<text x="0" y="0" font-size="6.3" fill="#111" text-anchor="middle" transform="translate(296.9,230.6) rotate(-90)" textLength="46" lengthAdjust="spacingAndGlyphs">Offset on PCo 2</text>
<text x="268.70" y="141.00" font-size="10" fill="#111" text-anchor="start" font-weight="bold" textLength="11.3" lengthAdjust="spacingAndGlyphs">(c)</text>
<line x1="403.2" y1="203.9" x2="408.5" y2="200.5" stroke="#222" stroke-width="0.5"/>
<line x1="395.5" y1="212.5" x2="401" y2="224" stroke="#222" stroke-width="0.5"/>
<line x1="394" y1="222.3" x2="400.4" y2="223.9" stroke="#222" stroke-width="0.5"/>
<line x1="407.5" y1="212.5" x2="412.1" y2="223" stroke="#222" stroke-width="0.5"/>
<line x1="412" y1="247.5" x2="405" y2="228.5" stroke="#222" stroke-width="0.5"/>
<line x1="361.5" y1="245.5" x2="367.2" y2="235.4" stroke="#222" stroke-width="0.5"/>
<line x1="378" y1="245.5" x2="384.3" y2="238.5" stroke="#222" stroke-width="0.5"/>
<line x1="391" y1="255.5" x2="390.8" y2="249.1" stroke="#222" stroke-width="0.5"/>
<line x1="398" y1="241" x2="396" y2="246" stroke="#222" stroke-width="0.5"/>
<line x1="410" y1="238" x2="402" y2="229" stroke="#222" stroke-width="0.5"/>
<circle cx="385.4" cy="171.2" r="1.1" fill="#111"/>
<circle cx="393.3" cy="172.1" r="1.1" fill="#111"/>
<circle cx="401.9" cy="198.5" r="1.1" fill="#111"/>
<circle cx="389" cy="200.8" r="1.1" fill="#111"/>
<circle cx="403.2" cy="203.9" r="1.1" fill="#111"/>
<circle cx="357.6" cy="207.7" r="1.1" fill="#111"/>
<circle cx="364.3" cy="207.7" r="1.1" fill="#111"/>
<circle cx="378.8" cy="208" r="1.1" fill="#111"/>
<circle cx="373.4" cy="216.4" r="1.1" fill="#111"/>
<circle cx="374.8" cy="217.6" r="1.1" fill="#111"/>
<circle cx="373.9" cy="223.3" r="1.1" fill="#111"/>
<circle cx="400.4" cy="223.9" r="1.1" fill="#111"/>
<circle cx="412.1" cy="223" r="1.1" fill="#111"/>
<circle cx="415.3" cy="218.5" r="1.1" fill="#111"/>
<circle cx="428.9" cy="219" r="1.1" fill="#111"/>
<circle cx="400.7" cy="223.6" r="1.1" fill="#111"/>
<circle cx="413" cy="227" r="1.1" fill="#111"/>
<circle cx="421.2" cy="227.8" r="1.1" fill="#111"/>
<circle cx="407" cy="228.5" r="1.1" fill="#111"/>
<circle cx="412.7" cy="227.1" r="1.1" fill="#111"/>
<circle cx="404.3" cy="232" r="1.1" fill="#111"/>
<circle cx="400.7" cy="236.2" r="1.1" fill="#111"/>
<circle cx="440.5" cy="233.3" r="1.1" fill="#111"/>
<circle cx="458.6" cy="240.9" r="1.1" fill="#111"/>
<circle cx="417.2" cy="237.4" r="1.1" fill="#111"/>
<circle cx="357.5" cy="239.6" r="1.1" fill="#111"/>
<circle cx="374" cy="223.4" r="1.1" fill="#111"/>
<circle cx="370.6" cy="227.1" r="1.1" fill="#111"/>
<circle cx="380.3" cy="235.9" r="1.1" fill="#111"/>
<circle cx="389.2" cy="235.4" r="1.1" fill="#111"/>
<circle cx="385.4" cy="231.3" r="1.1" fill="#111"/>
<circle cx="394.2" cy="241.6" r="1.1" fill="#111"/>
<circle cx="367.2" cy="235.4" r="1.1" fill="#111"/>
<circle cx="390.8" cy="249.1" r="1.1" fill="#111"/>
<circle cx="319.8" cy="224.7" r="1.1" fill="#111"/>
<circle cx="329.5" cy="271.5" r="1.1" fill="#111"/>
<text transform="translate(379.90,169.31) scale(0.91,1)" font-size="7.0" fill="#262626" text-anchor="middle" font-weight="normal" >B1-2</text>
<text transform="translate(398.20,180.21) scale(0.91,1)" font-size="7.0" fill="#262626" text-anchor="middle" font-weight="normal" >M3</text>
<text transform="translate(401.20,194.31) scale(0.91,1)" font-size="7.0" fill="#262626" text-anchor="middle" font-weight="normal" >M4</text>
<text transform="translate(389.00,198.51) scale(0.91,1)" font-size="7.0" fill="#262626" text-anchor="middle" font-weight="normal" >B4</text>
<text transform="translate(413.00,202.61) scale(0.91,1)" font-size="7.0" fill="#262626" text-anchor="middle" font-weight="normal" >M6</text>
<text transform="translate(357.90,205.71) scale(0.91,1)" font-size="7.0" fill="#262626" text-anchor="middle" font-weight="normal" >M9</text>
<text transform="translate(373.70,206.31) scale(0.91,1)" font-size="7.0" fill="#262626" text-anchor="middle" font-weight="normal" >B1-1</text>
<text transform="translate(349.00,215.91) scale(0.91,1)" font-size="7.0" fill="#262626" text-anchor="middle" font-weight="normal" >M15</text>
<text transform="translate(367.40,215.41) scale(0.91,1)" font-size="7.0" fill="#262626" text-anchor="middle" font-weight="normal" >M17</text>
<text transform="translate(381.10,216.51) scale(0.91,1)" font-size="7.0" fill="#262626" text-anchor="middle" font-weight="normal" >M8</text>
<text transform="translate(365.00,224.71) scale(0.91,1)" font-size="7.0" fill="#262626" text-anchor="middle" font-weight="normal" >M13</text>
<text transform="translate(394.30,211.11) scale(0.91,1)" font-size="7.0" fill="#262626" text-anchor="middle" font-weight="normal" >M18</text>
<text transform="translate(389.20,223.91) scale(0.91,1)" font-size="7.0" fill="#262626" text-anchor="middle" font-weight="normal" >B8</text>
<text transform="translate(404.00,220.51) scale(0.91,1)" font-size="7.0" fill="#262626" text-anchor="middle" font-weight="normal" >M12</text>
<text transform="translate(409.60,211.41) scale(0.91,1)" font-size="7.0" fill="#262626" text-anchor="middle" font-weight="normal" >B5</text>
<text transform="translate(424.40,217.11) scale(0.91,1)" font-size="7.0" fill="#262626" text-anchor="middle" font-weight="normal" >B2-2</text>
<text transform="translate(438.00,226.61) scale(0.91,1)" font-size="7.0" fill="#262626" text-anchor="middle" font-weight="normal" >B6-2</text>
<text transform="translate(411.50,236.01) scale(0.91,1)" font-size="7.0" fill="#262626" text-anchor="middle" font-weight="normal" >M10</text>
<text transform="translate(426.30,236.01) scale(0.91,1)" font-size="7.0" fill="#262626" text-anchor="middle" font-weight="normal" >M2</text>
<text transform="translate(444.80,241.51) scale(0.91,1)" font-size="7.0" fill="#262626" text-anchor="middle" font-weight="normal" >M1</text>
<text transform="translate(464.00,238.91) scale(0.91,1)" font-size="7.0" fill="#262626" text-anchor="middle" font-weight="normal" >M0</text>
<text transform="translate(424.60,245.71) scale(0.91,1)" font-size="7.0" fill="#262626" text-anchor="middle" font-weight="normal" >M11</text>
<text transform="translate(403.40,246.21) scale(0.91,1)" font-size="7.0" fill="#262626" text-anchor="middle" font-weight="normal" >B2-1</text>
<text transform="translate(399.00,254.81) scale(0.91,1)" font-size="7.0" fill="#262626" text-anchor="middle" font-weight="normal" >B6-1</text>
<text transform="translate(414.30,254.81) scale(0.91,1)" font-size="7.0" fill="#262626" text-anchor="middle" font-weight="normal" >B3</text>
<text transform="translate(358.10,234.61) scale(0.91,1)" font-size="7.0" fill="#262626" text-anchor="middle" font-weight="normal" >M14</text>
<text transform="translate(375.30,234.61) scale(0.91,1)" font-size="7.0" fill="#262626" text-anchor="middle" font-weight="normal" >B9-3</text>
<text transform="translate(393.60,233.71) scale(0.91,1)" font-size="7.0" fill="#262626" text-anchor="middle" font-weight="normal" >B10</text>
<text transform="translate(347.50,244.01) scale(0.91,1)" font-size="7.0" fill="#262626" text-anchor="middle" font-weight="normal" >B9-1</text>
<text transform="translate(371.20,244.61) scale(0.91,1)" font-size="7.0" fill="#262626" text-anchor="middle" font-weight="normal" >B7-2</text>
<text transform="translate(361.10,252.81) scale(0.91,1)" font-size="7.0" fill="#262626" text-anchor="middle" font-weight="normal" >M16</text>
<text transform="translate(376.90,252.81) scale(0.91,1)" font-size="7.0" fill="#262626" text-anchor="middle" font-weight="normal" >M5</text>
<text transform="translate(388.00,244.01) scale(0.91,1)" font-size="7.0" fill="#262626" text-anchor="middle" font-weight="normal" >M7</text>
<text transform="translate(382.60,261.61) scale(0.91,1)" font-size="7.0" fill="#262626" text-anchor="middle" font-weight="normal" >B2-3</text>
<text transform="translate(319.40,233.61) scale(0.91,1)" font-size="7.0" fill="#262626" text-anchor="middle" font-weight="normal" >B9-2</text>
<text transform="translate(323.70,280.21) scale(0.91,1)" font-size="7.0" fill="#262626" text-anchor="middle" font-weight="normal" >B7-1</text>
</svg>
</body></html>
